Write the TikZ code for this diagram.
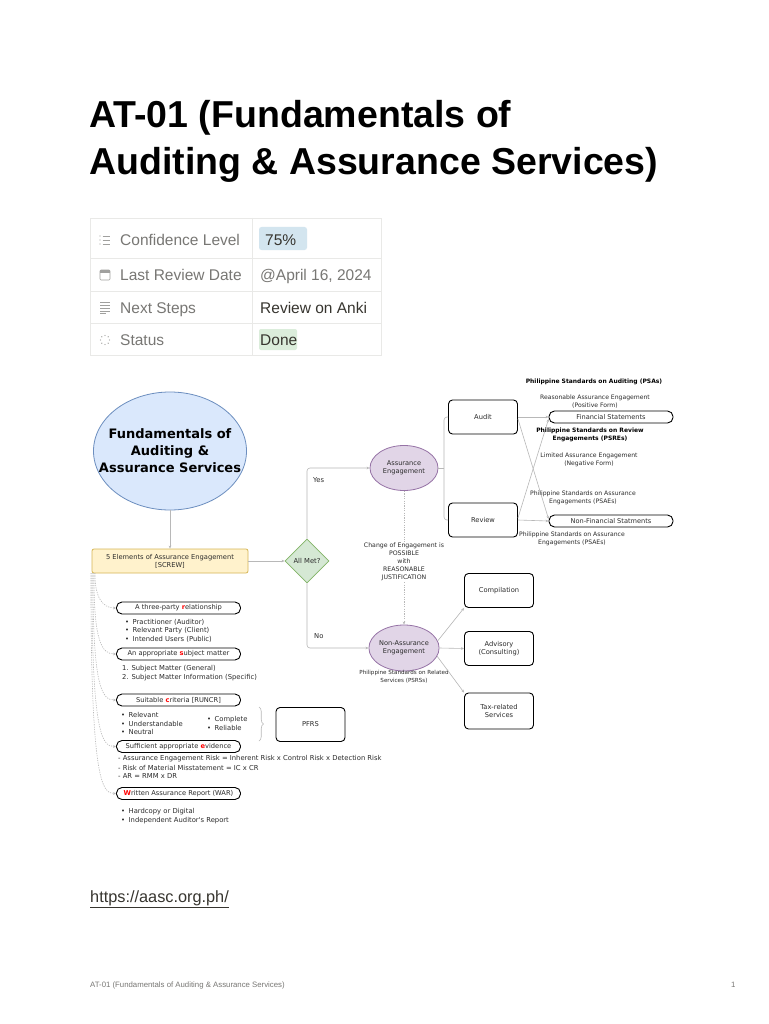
\documentclass[tikz,border=0pt]{standalone}
\usepackage{fontspec}
\setmainfont{Liberation Sans}
\newfontfamily\dvs{DejaVu Sans}
\usetikzlibrary{shapes.geometric,arrows.meta,calc,decorations.pathreplacing}
\definecolor{tgray}{HTML}{787774}
\definecolor{tblack}{HTML}{37352F}
\definecolor{lgray}{HTML}{E9E9E7}
\definecolor{bluebg}{HTML}{D3E5EF}
\definecolor{greenbg}{HTML}{DBEDDB}
\definecolor{efill}{HTML}{DAE8FC}
\definecolor{edraw}{HTML}{6C8EBF}
\definecolor{yfill}{HTML}{FFF2CC}
\definecolor{ydraw}{HTML}{D6B656}
\definecolor{gfill}{HTML}{D5E8D4}
\definecolor{gdraw}{HTML}{82B366}
\definecolor{pfill}{HTML}{E1D5E7}
\definecolor{pdraw}{HTML}{9673A6}
\definecolor{conncol}{HTML}{B8B8B8}
\definecolor{dtext}{HTML}{2B2B2B}
\begin{document}
\begin{tikzpicture}[x=1pt,y=-1pt,
  pill/.style={draw=black, line width=0.9pt, rounded corners=5.5pt, fill=white, minimum width=124pt, minimum height=12pt, inner sep=0pt, font=\dvs\fontsize{6.7}{7}\selectfont, text=dtext},
  rbox/.style={draw=black, line width=0.9pt, rounded corners=4pt, fill=white, minimum width=69pt, minimum height=34pt, inner sep=0pt, align=center, font=\dvs\fontsize{6.7}{8.5}\selectfont, text=dtext},
  conn/.style={draw=conncol, line width=0.6pt, -{Stealth[length=3pt,width=2.6pt]}},
  plain/.style={draw=conncol, line width=0.6pt},
  dconn/.style={draw=conncol, line width=0.6pt, dash pattern=on 1.2pt off 1.2pt, -{Stealth[length=3pt,width=2.6pt]}},
  small/.style={font=\dvs\fontsize{6.1}{7.9}\selectfont, text=dtext, align=center, inner sep=0pt},
  smallb/.style={font=\dvs\bfseries\fontsize{6}{7.9}\selectfont, text=black, align=center, inner sep=0pt},
  bl/.style={font=\dvs\fontsize{6.8}{8}\selectfont, text=dtext, anchor=west, inner sep=0pt},
  lbl/.style={font=\fontsize{15.5}{18}\selectfont, text=tgray, anchor=base west, inner sep=0pt},
  val/.style={font=\fontsize{15.5}{18}\selectfont, text=tblack, anchor=base west, inner sep=0pt},
  ttl/.style={font=\fontsize{37.5}{45}\selectfont\bfseries, text=black, anchor=base west, inner sep=0pt},
  icon/.style={draw=tgray!70, line width=0.7pt}
]
\useasboundingbox (0,0) rectangle (768,1024);
\fill[white] (0,0) rectangle (768,1024);

% title
\node[ttl] (t1) at (89,128) {AT-01 (Fundamentals of};
\node[ttl] (t2) at (89,175) {Auditing \& Assurance Services)};

% property table
\draw[lgray, line width=0.8pt] (90,218) rectangle (381,355);
\draw[lgray, line width=0.8pt] (90,258) -- (381,258) (90,291) -- (381,291) (90,323) -- (381,323) (252,218) -- (252,355);
\fill[bluebg, rounded corners=2.5pt] (259,227) rectangle (307,250);
\fill[greenbg, rounded corners=2pt] (259,329) rectangle (297,350);
\node[lbl] (l1) at (120,245) {Confidence Level};
\node[lbl] (l2) at (120,280) {Last Review Date};
\node[lbl] (l3) at (120,313) {Next Steps};
\node[lbl] (l4) at (120,345) {Status};
\node[val] (v1) at (265,245) {75\%};
\node[val, text=tgray] (v2) at (260,280) {@April 16, 2024};
\node[val] (v3) at (260,313) {Review on Anki};
\node[val] (v4) at (260,345) {Done};
% icons
\foreach \yy in {236,240,244}{\fill[tgray!70] (100,\yy) circle (0.6); \draw[icon] (102.5,\yy) -- (110,\yy);}
\draw[icon, rounded corners=1pt] (100,270) rectangle (110,280); \fill[tgray!70] (100,270) rectangle (110,273);
\foreach \yy in {302,305,308,311}{\draw[icon] (100,\yy) -- (110,\yy);}
\draw[icon] (100,313.5) -- (106,313.5);
\foreach \a in {0,45,...,315}{\fill[tgray!70] ($(105,340)+(\a:4.5)$) circle (0.7);}

% ---------------- diagram ----------------
\node[ellipse, draw=edraw, fill=efill, line width=0.8pt, minimum width=153pt, minimum height=118pt, inner sep=0pt] (fund) at (170,451) {};
\node[font=\dvs\bfseries\fontsize{13}{17}\selectfont, align=center, inner sep=0pt, text=black] (fundt) at (170,451) {Fundamentals of\\Auditing \&\\Assurance Services};

\node[draw=ydraw, fill=yfill, line width=0.8pt, rounded corners=2pt, minimum width=156pt, minimum height=24pt, inner sep=0pt, align=center, font=\dvs\fontsize{6.7}{8}\selectfont, text=dtext] (elem) at (170,561) {5 Elements of Assurance Engagement\\{[SCREW]}};
\draw[conn] (fund.south) -- (elem.north);

\node[diamond, draw=gdraw, fill=gfill, line width=0.8pt, minimum width=44pt, minimum height=44pt, inner sep=0pt, font=\dvs\fontsize{6.8}{7}\selectfont, text=dtext] (dia) at (307,561) {All Met?};
\draw[conn] (elem.east) -- (dia.west);

\node[ellipse, draw=pdraw, fill=pfill, line width=0.8pt, minimum width=68pt, minimum height=45pt, inner sep=0pt, align=center, font=\dvs\fontsize{6.6}{8.5}\selectfont, text=dtext] (ae) at (404,468) {Assurance\\Engagement};
\node[ellipse, draw=pdraw, fill=pfill, line width=0.8pt, minimum width=68pt, minimum height=46pt, inner sep=0pt, align=center, font=\dvs\fontsize{6.6}{8.5}\selectfont, text=dtext] (nae) at (404,648) {Non-Assurance\\Engagement};

\draw[conn, rounded corners=3pt] (dia.north) |- (ae.west);
\draw[conn, rounded corners=3pt] (dia.south) |- (nae.west);
\node[bl] (yes) at (313,480) {Yes};
\node[bl] (no) at (314,636) {No};

\draw[dconn] (ae.south) -- (nae.north);
\node[small, fill=white, inner sep=1pt, font=\dvs\fontsize{6.2}{8.1}\selectfont] (chg) at (404,562) {Change of Engagement is\\POSSIBLE\\with\\REASONABLE\\JUSTIFICATION};
\node[small, font=\dvs\fontsize{5.6}{7.8}\selectfont] (psrs) at (404,677) {Philippine Standards on Related\\Services (PSRSs)};

% assurance branch
\node[rbox] (audit) at (483,417) {Audit};
\node[rbox] (review) at (483,520) {Review};
\coordinate (br) at (444,468);
\draw[plain] (ae.east) -- (br);
\draw[plain, rounded corners=3pt] (br) |- (audit.west);
\draw[plain, rounded corners=3pt] (br) |- (review.west);

\node[pill, minimum width=124pt, font=\dvs\fontsize{6.6}{7}\selectfont] (fs) at (611,417) {Financial Statements};
\node[pill, minimum width=124pt, font=\dvs\fontsize{6.6}{7}\selectfont] (nfs) at (611,521) {Non-Financial Statments};
\draw[conn] (audit.east) -- (fs.west);
\draw[conn] ($(audit.east)+(0,2)$) -- ($(nfs.west)+(0,-2)$);
\draw[conn] (review.east) -- (nfs.west);
\draw[conn] ($(review.east)+(0,-2)$) -- ($(fs.west)+(0,2)$);

\node[smallb] (psa) at (594,382) {Philippine Standards on Auditing (PSAs)};
\node[small] (rae) at (595,402) {Reasonable Assurance Engagement\\(Positive Form)};
\node[smallb] (psre) at (590,435) {Philippine Standards on Review\\Engagements (PSREs)};
\node[small] (lae) at (589,459.5) {Limited Assurance Engagement\\(Negative Form)};
\node[small] (psae1) at (583,498) {Philippine Standards on Assurance\\Engagements (PSAEs)};
\node[small] (psae2) at (572,538.5) {Philippine Standards on Assurance\\Engagements (PSAEs)};

% non-assurance branch
\node[rbox] (comp) at (499,590.5) {Compilation};
\node[rbox] (adv) at (499,648.5) {Advisory\\(Consulting)};
\node[rbox, minimum height=36pt] (tax) at (499,711) {Tax-related\\Services};
\draw[conn] (nae.12) -- (comp.south west);
\draw[conn] (nae.east) -- (adv.west);
\draw[conn] (nae.-14) -- (tax.north west);

% five elements
\node[pill] (p1) at (178.5,608) {A three-party \textcolor{red}{\bfseries r}elationship};
\node[pill] (p2) at (178.5,654) {An appropriate \textcolor{red}{\bfseries s}ubject matter};
\node[pill] (p3) at (178.5,700) {Suitable \textcolor{red}{\bfseries c}riteria [RUNCR]};
\node[pill] (p4) at (178.5,746.5) {Sufficient appropriate \textcolor{red}{\bfseries e}vidence};
\node[pill] (p5) at (178.5,793.5) {\textcolor{red}{\bfseries W}ritten Assurance Report (WAR)};
\foreach \p/\sx in {p1/95,p2/94,p3/93,p4/92,p5/91}{
  \draw[dconn] (\sx,573) .. controls ($(\p.west)+(\sx-116.5,-12)$) and ($(\p.west)+(-14,0)$) .. (\p.west);
}

\node[bl] (a1) at (125,622) {\textbullet\hspace{3.5pt}Practitioner (Auditor)};
\node[bl] (a2) at (125,630.5) {\textbullet\hspace{3.5pt}Relevant Party (Client)};
\node[bl] (a3) at (125,639) {\textbullet\hspace{3.5pt}Intended Users (Public)};
\node[bl] (s1) at (122,669) {1. Subject Matter (General)};
\node[bl] (s2) at (122,677.5) {2. Subject Matter Information (Specific)};
\node[bl] (c1) at (121,715) {\textbullet\hspace{3.5pt}Relevant};
\node[bl] (c2) at (121,723.5) {\textbullet\hspace{3.5pt}Understandable};
\node[bl] (c3) at (121,732) {\textbullet\hspace{3.5pt}Neutral};
\node[bl] (c4) at (207,719.5) {\textbullet\hspace{3.5pt}Complete};
\node[bl] (c5) at (207,728) {\textbullet\hspace{3.5pt}Reliable};
\draw[conncol, line width=0.6pt, decorate, decoration={brace, amplitude=4.5pt}] (259,707) -- (259,741);
\node[rbox] (pfrs) at (310.5,724.5) {PFRS};
\node[bl] (e1) at (118,759) {- Assurance Engagement Risk = Inherent Risk x Control Risk x Detection Risk};
\node[bl] (e2) at (118,767.5) {- Risk of Material Misstatement = IC x CR};
\node[bl] (e3) at (118,776) {- AR = RMM x DR};
\node[bl] (w1) at (121,812) {\textbullet\hspace{3.5pt}Hardcopy or Digital};
\node[bl] (w2) at (121,820.5) {\textbullet\hspace{3.5pt}Independent Auditor's Report};

% link and footer
\node[font=\fontsize{16.3}{18}\selectfont, text=tblack, anchor=base west, inner sep=0pt] (url) at (90,902) {\underline{https://aasc.org.ph/}};
\node[font=\fontsize{7.8}{9}\selectfont, text=tgray, anchor=base west, inner sep=0pt] (foot) at (90,987) {AT-01 (Fundamentals of Auditing \& Assurance Services)};
\node[font=\fontsize{7.8}{9}\selectfont, text=tgray, anchor=base west, inner sep=0pt] (pg) at (731,987) {1};
\end{tikzpicture}
\end{document}
